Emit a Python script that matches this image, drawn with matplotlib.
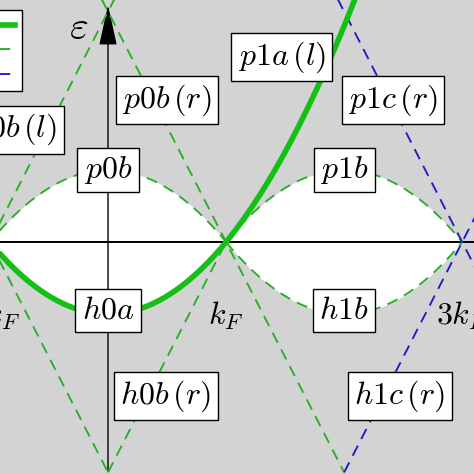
import matplotlib
matplotlib.use('Agg')
import matplotlib.pyplot as plt
from matplotlib.lines import Line2D
import numpy as np

plt.rcParams['mathtext.fontset'] = 'cm'

# k in units of k_F, energy in units of the band depth
k_min, k_max = -0.915, 3.10
e_min, e_max = -3.222, 3.361

# centres of the curved branches
arcs_upper = [0.0, 2.0]          # p0b, p1b
arcs_lower_dashed = [2.0]        # h1b

# straight branches: (k start, k end, e start, e end)
lines_green = [(-1.0, 0.1, 0.0, 3.52),      # p0b(l)
               (-0.1, 2.0, 3.52, -3.2),     # p0b(r)
               (-1.0, 0.0, 0.0, -3.2),      # h0b(l)
               (0.0, 1.0, -3.2, 0.0)]       # h0b(r)
lines_blue = [(1.9, 3.2, 3.52, -0.64),      # p1c(r)
              (2.0, 3.2, -3.2, 0.64)]       # h1c(r)

box_labels = [r'$p0b$', r'$h0a$', r'$p1b$', r'$h1b$',
              r'$p0b\,(r)$', r'$p0b\,(l)$', r'$p1a\,(l)$', r'$p1c\,(r)$',
              r'$h0b\,(r)$', r'$h1c\,(r)$']
box_x = [0.0, 0.0, 2.0, 2.0, 0.5, -0.79, 1.47, 2.415, 0.49, 2.47]
box_y = [1.0, -0.95, 1.0, -0.95, 1.97, 1.56, 2.57, 1.97, -2.14, -2.14]

k_labels = [r'$-k_F$', r'$k_F$', r'$3k_F$']
k_pos = [-1.0, 1.0, 3.0]

green = '#14c014'
dgreen = '#26b026'
blue = '#1c1cc8'
gray = '#d3d3d3'

fig = plt.figure(figsize=(4.74, 4.74), dpi=100)
fig.patch.set_facecolor(gray)
ax = fig.add_axes([0, 0, 1, 1])
ax.set_facecolor(gray)
ax.set_xlim(k_min, k_max)
ax.set_ylim(e_min, e_max)
ax.axis('off')

# white continuum regions
for c in arcs_upper:
    kk = np.linspace(c - 1, c + 1, 300)
    ax.fill_between(kk, 1 - (kk - c) ** 2, (kk - c) ** 2 - 1, color='white', lw=0, zorder=1)

# dashed arcs
dash = (0, (6, 4))
dlw = 1.35
for c in arcs_upper:
    kk = np.linspace(c - 1, c + 1, 300)
    ax.plot(kk, 1 - (kk - c) ** 2, color=dgreen, lw=dlw, ls=dash, zorder=3)
for c in arcs_lower_dashed:
    kk = np.linspace(c - 1, c + 1, 300)
    ax.plot(kk, (kk - c) ** 2 - 1, color=dgreen, lw=dlw, ls=dash, zorder=3)

# straight branches
for k0, k1, e0, e1 in lines_green:
    ax.plot([k0, k1], [e0, e1], color=dgreen, lw=dlw, ls=dash, zorder=3)
for k0, k1, e0, e1 in lines_blue:
    ax.plot([k0, k1], [e0, e1], color=blue, lw=dlw, ls=dash, zorder=3)

# axes
ax.axhline(0, color='black', lw=1.4, zorder=2)
ax.annotate('', xy=(0, e_max - 0.03), xytext=(0, e_min),
            arrowprops=dict(arrowstyle='-|>,head_length=1.6,head_width=0.35',
                            color='black', lw=1.0, mutation_scale=16), zorder=2)

# free particle parabola
kk = np.linspace(-1.2, 2.3, 400)
ax.plot(kk, kk ** 2 - 1, color=green, lw=4.0, zorder=4, solid_capstyle='butt')

for lab, x, y in zip(box_labels, box_x, box_y):
    ax.text(x, y, lab, fontsize=23, ha='center', va='center', zorder=6,
            bbox=dict(boxstyle='square,pad=0.2', fc='white', ec='black', lw=1))

for lab, x in zip(k_labels, k_pos):
    ax.text(x, -1.02, lab, fontsize=23, ha='center', va='center', zorder=5)

ax.text(-0.25, 2.97, r'$\varepsilon$', fontsize=29, ha='center', va='center')

# legend (mostly outside the frame)
handles = [Line2D([], [], color=green, lw=4.0),
           Line2D([], [], color=dgreen, lw=dlw, ls=dash),
           Line2D([], [], color=blue, lw=dlw, ls=dash)]
leg = ax.legend(handles, ['', '', ''], loc='upper right', markerfirst=False,
                bbox_to_anchor=(22 / 474, 1 - 10 / 474), borderaxespad=0,
                fontsize=13, labelspacing=0.35, fancybox=False, framealpha=1,
                edgecolor='black', handlelength=2.0)
leg.get_frame().set_linewidth(1.0)
leg.set_zorder(7)

fig.savefig('out.png', dpi=100, facecolor=gray)
